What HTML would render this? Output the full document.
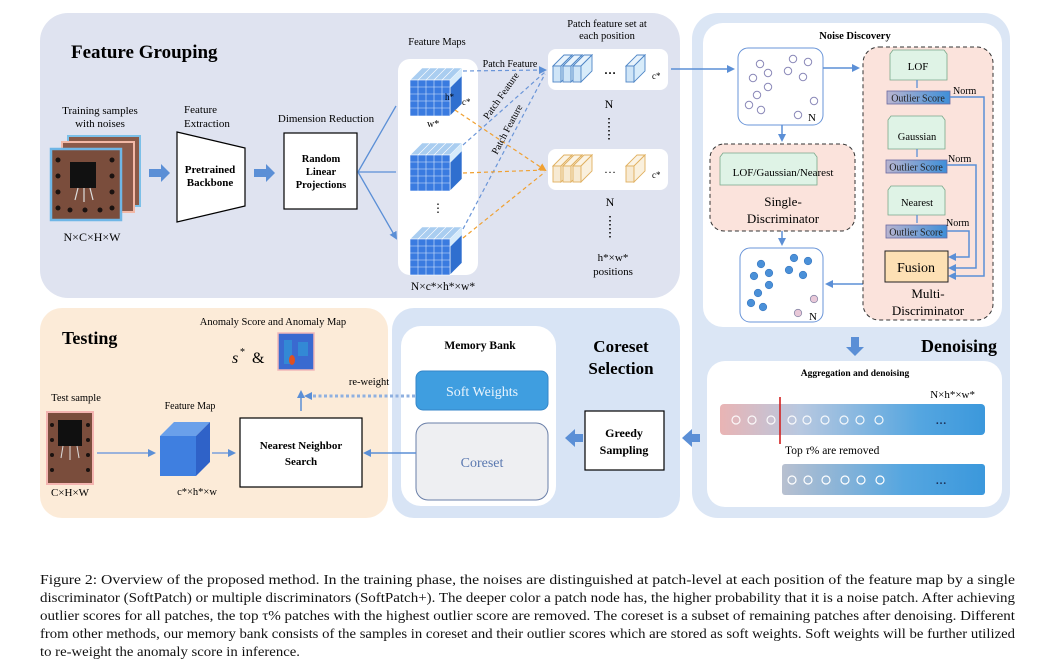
<!DOCTYPE html>
<html><head><meta charset="utf-8"><style>
body{margin:0;background:#fff}
svg{display:block}
text{font-family:"Liberation Serif",serif}
</style></head><body>
<svg width="1049" height="666" viewBox="0 0 1049 666" xmlns="http://www.w3.org/2000/svg">
<defs>
<marker id="ah" markerWidth="8" markerHeight="8" refX="6" refY="4" orient="auto" markerUnits="userSpaceOnUse"><path d="M0,0L8,4L0,8z" fill="#5b8fd6"/></marker>
<marker id="ao" markerWidth="8" markerHeight="8" refX="6" refY="4" orient="auto" markerUnits="userSpaceOnUse"><path d="M0,0L8,4L0,8z" fill="#f0a030"/></marker>
<linearGradient id="b1" x1="0" x2="1"><stop offset="0" stop-color="#e9b4b4"/><stop offset="0.3" stop-color="#b8c8e0"/><stop offset="0.75" stop-color="#55a6e0"/><stop offset="1" stop-color="#3b98dc"/></linearGradient>
<linearGradient id="b2" x1="0" x2="1"><stop offset="0" stop-color="#b8c0d0"/><stop offset="0.6" stop-color="#55a6e0"/><stop offset="1" stop-color="#3b98dc"/></linearGradient>
<linearGradient id="os" x1="0" x2="1"><stop offset="0" stop-color="#b8b4d0"/><stop offset="1" stop-color="#3f8fd8"/></linearGradient>
<g id="cube">
<path d="M0,12L12,0L52,0L40,12z" fill="#a9cdf0" stroke="#fff" stroke-width="0.6"/>
<path d="M40,12L52,0L52,36L40,48z" fill="#2f6fcf" stroke="#fff" stroke-width="0.6"/>
<rect x="0" y="12" width="40" height="36" fill="#3a7be0" stroke="#fff" stroke-width="0.6"/>
<path d="M8,12V48M16,12V48M24,12V48M32,12V48M0,19H40M0,26H40M0,33H40M0,40H40" stroke="#d8e6fb" stroke-width="0.6"/>
<path d="M20,0L8,12M28,0L16,12M36,0L24,12M44,0L32,12" stroke="#fff" stroke-width="0.6"/>
<path d="M40,12L52,0V8L40,20z" fill="#d6ebfb"/>
</g>
<g id="pb"><path d="M0,11L11,0H19L8,11z" fill="#e8f3fc" stroke="#4f86c6" stroke-width="0.9"/><rect x="0" y="11" width="8" height="16" fill="#cfe5f7" stroke="#4f86c6" stroke-width="0.9"/><path d="M8,11L19,0V16L8,27z" fill="#d8ecfa" stroke="#4f86c6" stroke-width="0.9"/></g>
<g id="po"><path d="M0,11L11,0H19L8,11z" fill="#fbf3e4" stroke="#e0b060" stroke-width="0.9"/><rect x="0" y="11" width="8" height="16" fill="#f7ead3" stroke="#e0b060" stroke-width="0.9"/><path d="M8,11L19,0V16L8,27z" fill="#faf0dd" stroke="#e0b060" stroke-width="0.9"/></g>
</defs>

<rect x="40" y="13" width="640" height="285" rx="28" fill="#dfe3f0"/>
<rect x="692" y="13" width="318" height="505" rx="26" fill="#dbe6f5"/>
<rect x="703" y="23" width="299" height="304" rx="20" fill="#fff"/>
<rect x="707" y="361" width="295" height="146" rx="18" fill="#fff"/>
<rect x="40" y="308" width="348" height="210" rx="22" fill="#fcebd8"/>
<rect x="392" y="308" width="288" height="210" rx="22" fill="#d8e4f5"/>
<rect x="401" y="326" width="155" height="180" rx="20" fill="#fff"/>

<text x="71" y="58" font-size="19" font-weight="bold">Feature Grouping</text>
<text x="100" y="114" font-size="11" text-anchor="middle">Training samples</text>
<text x="100" y="127" font-size="11" text-anchor="middle">with noises</text>
<rect x="68" y="136" width="72" height="70" fill="#8a5a48" stroke="#7cc0e8" stroke-width="2"/>
<rect x="62" y="142" width="72" height="70" fill="#8b5a4a" stroke="#f2b8a6" stroke-width="2"/>
<rect x="51" y="149" width="70" height="71" fill="#7a4d3c" stroke="#6fb6e6" stroke-width="2.5"/>
<rect x="70" y="162" width="26" height="26" fill="#111"/>
<g fill="#1a1210"><circle cx="58" cy="160" r="2.5"/><circle cx="58" cy="176" r="2.5"/><circle cx="58" cy="192" r="2.5"/><circle cx="58" cy="208" r="2.5"/><circle cx="112" cy="160" r="2.5"/><circle cx="112" cy="176" r="2.5"/><circle cx="112" cy="192" r="2.5"/><circle cx="112" cy="208" r="2.5"/><circle cx="85" cy="210" r="2.5"/><circle cx="70" cy="210" r="2.5"/><circle cx="100" cy="210" r="2.5"/></g>
<path d="M78,188l-3,12M84,188v14M90,188l3,12" stroke="#ddd" stroke-width="1.2"/>
<text x="92" y="241" font-size="12" text-anchor="middle">N×C×H×W</text>
<path d="M149,169h12v-5l9,9l-9,9v-5h-12z" fill="#5b8fd6"/>
<text x="184" y="113" font-size="11">Feature</text>
<text x="184" y="127" font-size="11">Extraction</text>
<path d="M177,132L245,148V206L177,222z" fill="#fff" stroke="#000" stroke-width="1.2"/>
<text x="210" y="173" font-size="11" font-weight="bold" text-anchor="middle">Pretrained</text>
<text x="210" y="186" font-size="11" font-weight="bold" text-anchor="middle">Backbone</text>
<path d="M254,169h12v-5l9,9l-9,9v-5h-12z" fill="#5b8fd6"/>
<text x="326" y="122" font-size="11" text-anchor="middle">Dimension Reduction</text>
<rect x="284" y="133" width="73" height="76" fill="#fff" stroke="#000" stroke-width="1.2"/>
<text x="321" y="162" font-size="10.5" font-weight="bold" text-anchor="middle">Random</text>
<text x="321" y="175" font-size="10.5" font-weight="bold" text-anchor="middle">Linear</text>
<text x="321" y="188" font-size="10.5" font-weight="bold" text-anchor="middle">Projections</text>
<path d="M358,172L396,106M358,172H396M358,172L396,238" stroke="#5b8fd6" stroke-width="1.3" fill="none" marker-end="url(#ah)"/>
<text x="437" y="45" font-size="10.5" text-anchor="middle">Feature Maps</text>
<rect x="398" y="59" width="80" height="216" rx="12" fill="#fff"/>
<use href="#cube" x="410" y="68"/>
<use href="#cube" x="410" y="143"/>
<use href="#cube" x="410" y="227"/>
<text x="445" y="100" font-size="9">h*</text>
<text x="462" y="105" font-size="9">c*</text>
<text x="427" y="127" font-size="10">w*</text>
<text x="432" y="212" font-size="12">⋮</text>
<text x="443" y="290" font-size="11.5" text-anchor="middle">N×c*×h*×w*</text>
<g stroke="#6a95d8" stroke-width="1.2" stroke-dasharray="4,3" fill="none">
<path d="M463,71L545,70" marker-end="url(#ah)"/>
<path d="M463,145L545,72"/>
<path d="M463,229L545,74"/>
</g>
<g stroke="#f0a030" stroke-width="1.2" stroke-dasharray="4,3" fill="none">
<path d="M455,110L545,170" marker-end="url(#ao)"/>
<path d="M463,173L545,170"/>
<path d="M463,238L545,172"/>
</g>
<text x="510" y="67" font-size="10" text-anchor="middle">Patch Feature</text>
<text x="0" y="0" font-size="10" transform="translate(488,120) rotate(-55)">Patch Feature</text>
<text x="0" y="0" font-size="10" transform="translate(497,155) rotate(-62)">Patch Feature</text>
<text x="607" y="27" font-size="10.5" text-anchor="middle">Patch feature set at</text>
<text x="607" y="39" font-size="10.5" text-anchor="middle">each position</text>
<rect x="548" y="49" width="120" height="41" rx="8" fill="#fff"/>
<use href="#pb" x="553" y="55"/><use href="#pb" x="563" y="55"/><use href="#pb" x="573" y="55"/><use href="#pb" x="626" y="55"/>
<text x="604" y="74" font-size="12" font-weight="bold">…</text><text x="652" y="79" font-size="9">c*</text>
<rect x="548" y="149" width="120" height="41" rx="8" fill="#fff"/>
<use href="#po" x="553" y="155"/><use href="#po" x="563" y="155"/><use href="#po" x="573" y="155"/><use href="#po" x="626" y="155"/>
<text x="604" y="173" font-size="12">…</text><text x="652" y="178" font-size="9">c*</text>
<text x="609" y="108" font-size="12" text-anchor="middle">N</text>
<path d="M609,118V142" stroke="#000" stroke-width="1.5" stroke-dasharray="1.5,2.5"/>
<text x="610" y="206" font-size="12" text-anchor="middle">N</text>
<path d="M610,216V238" stroke="#000" stroke-width="1.5" stroke-dasharray="1.5,2.5"/>
<text x="613" y="261" font-size="11" text-anchor="middle">h*×w*</text>
<text x="613" y="275" font-size="11" text-anchor="middle">positions</text>
<path d="M671,69H733" stroke="#5b8fd6" stroke-width="1.5" marker-end="url(#ah)"/>

<text x="855" y="39" font-size="10.5" font-weight="bold" text-anchor="middle">Noise Discovery</text>
<rect x="738" y="48" width="85" height="77" rx="10" fill="#fff" stroke="#6a95d8" stroke-width="1"/>
<g fill="#fff" stroke="#8a88b8" stroke-width="1"><circle cx="760" cy="64" r="3.7"/><circle cx="793" cy="59" r="3.7"/><circle cx="808" cy="62" r="3.7"/><circle cx="768" cy="73" r="3.7"/><circle cx="788" cy="71" r="3.7"/><circle cx="753" cy="78" r="3.7"/><circle cx="803" cy="77" r="3.7"/><circle cx="768" cy="87" r="3.7"/><circle cx="757" cy="95" r="3.7"/><circle cx="814" cy="101" r="3.7"/><circle cx="749" cy="105" r="3.7"/><circle cx="761" cy="110" r="3.7"/><circle cx="798" cy="115" r="3.7"/></g>
<text x="808" y="121" font-size="11">N</text>
<path d="M823,68H858" stroke="#5b8fd6" stroke-width="1.5" marker-end="url(#ah)"/>
<path d="M782,125V140" stroke="#5b8fd6" stroke-width="1.5" marker-end="url(#ah)"/>
<rect x="710" y="144" width="145" height="87" rx="14" fill="#fbe3dc" stroke="#333" stroke-width="1" stroke-dasharray="4,3"/>
<path d="M720,157l3,-4H814l3,4V185H720z" fill="#dff3e6" stroke="#7aa88a" stroke-width="0.8"/>
<text x="783" y="176" font-size="11" text-anchor="middle">LOF/Gaussian/Nearest</text>
<text x="783" y="206" font-size="13" text-anchor="middle">Single-</text>
<text x="783" y="223" font-size="13" text-anchor="middle">Discriminator</text>
<path d="M782,231V244" stroke="#5b8fd6" stroke-width="1.5" marker-end="url(#ah)"/>
<rect x="740" y="248" width="83" height="74" rx="10" fill="#fff" stroke="#6a95d8" stroke-width="1"/>
<g fill="#4a90d8" stroke="#3a78c0" stroke-width="0.6"><circle cx="761" cy="264" r="3.8"/><circle cx="794" cy="258" r="3.8"/><circle cx="808" cy="261" r="3.8"/><circle cx="769" cy="273" r="3.8"/><circle cx="789" cy="270" r="3.8"/><circle cx="754" cy="276" r="3.8"/><circle cx="803" cy="275" r="3.8"/><circle cx="769" cy="285" r="3.8"/><circle cx="758" cy="293" r="3.8"/><circle cx="751" cy="303" r="3.8"/><circle cx="763" cy="307" r="3.8"/></g>
<g fill="#e8c8d8" stroke="#8a88a8" stroke-width="0.8"><circle cx="814" cy="299" r="3.7"/><circle cx="798" cy="313" r="3.7"/></g>
<text x="809" y="320" font-size="11">N</text>
<path d="M863,284H827" stroke="#5b8fd6" stroke-width="1.5" marker-end="url(#ah)"/>
<rect x="863" y="47" width="130" height="273" rx="16" fill="#fbe3dc" stroke="#333" stroke-width="1" stroke-dasharray="4,3"/>
<path d="M890,54l3,-4H944l3,4V80H890z" fill="#dff3e6" stroke="#7aa88a" stroke-width="0.8"/>
<text x="918" y="70" font-size="11" text-anchor="middle">LOF</text>
<path d="M888,120l3,-4H942l3,4V149H888z" fill="#dff3e6" stroke="#7aa88a" stroke-width="0.8"/>
<text x="917" y="140" font-size="10.5" text-anchor="middle">Gaussian</text>
<path d="M888,190l3,-4H942l3,4V215H888z" fill="#dff3e6" stroke="#7aa88a" stroke-width="0.8"/>
<text x="917" y="206" font-size="10.5" text-anchor="middle">Nearest</text>
<g stroke="#5b8fd6" stroke-width="1.3"><path d="M917,80V88"/><path d="M917,149V157"/><path d="M917,215V223"/></g>
<rect x="887" y="91" width="63" height="13" fill="url(#os)" stroke="#6a6aa0" stroke-width="0.8"/>
<text x="918" y="101.5" font-size="10" text-anchor="middle" fill="#222">Outlier Score</text>
<rect x="886" y="160" width="61" height="13" fill="url(#os)" stroke="#6a6aa0" stroke-width="0.8"/>
<text x="916" y="170.5" font-size="10" text-anchor="middle" fill="#222">Outlier Score</text>
<rect x="886" y="225" width="61" height="13" fill="url(#os)" stroke="#6a6aa0" stroke-width="0.8"/>
<text x="916" y="235.5" font-size="10" text-anchor="middle" fill="#222">Outlier Score</text>
<text x="953" y="94" font-size="10">Norm</text>
<text x="948" y="162" font-size="10">Norm</text>
<text x="946" y="226" font-size="10">Norm</text>
<g stroke="#5b8fd6" stroke-width="1.5" fill="none">
<path d="M950,97H984V276H950" marker-end="url(#ah)"/>
<path d="M947,165H976V268H950" marker-end="url(#ah)"/>
<path d="M947,231H969V257H950" marker-end="url(#ah)"/>
</g>
<rect x="885" y="251" width="63" height="31" fill="#fde0b4" stroke="#222" stroke-width="1"/>
<text x="916" y="272" font-size="14" text-anchor="middle">Fusion</text>
<text x="928" y="298" font-size="13" text-anchor="middle">Multi-</text>
<text x="928" y="315" font-size="13" text-anchor="middle">Discriminator</text>

<path d="M851,337h8v10h5l-9,9l-9,-9h5z" fill="#5b8fd6"/>
<text x="997" y="352" font-size="18" font-weight="bold" text-anchor="end">Denoising</text>
<text x="855" y="376" font-size="9.5" font-weight="bold" text-anchor="middle">Aggregation and denoising</text>
<text x="975" y="398" font-size="11" text-anchor="end">N×h*×w*</text>
<rect x="720" y="404" width="265" height="31" rx="4" fill="url(#b1)"/>
<g fill="none" stroke="#fff" stroke-width="1.2" opacity="0.9"><circle cx="736" cy="420" r="4"/><circle cx="752" cy="420" r="4"/><circle cx="771" cy="420" r="4"/><circle cx="792" cy="420" r="4"/><circle cx="807" cy="420" r="4"/><circle cx="825" cy="420" r="4"/><circle cx="844" cy="420" r="4"/><circle cx="860" cy="420" r="4"/><circle cx="879" cy="420" r="4"/></g>
<text x="941" y="424" font-size="11" font-weight="bold" text-anchor="middle" fill="#1a2a50">…</text>
<path d="M780,397V444" stroke="#d02020" stroke-width="1.6"/>
<text x="785" y="454" font-size="11.5">Top <tspan font-style="italic">τ</tspan>%  are removed</text>
<rect x="782" y="464" width="203" height="31" rx="3" fill="url(#b2)"/>
<g fill="none" stroke="#fff" stroke-width="1.2"><circle cx="792" cy="480" r="4"/><circle cx="808" cy="480" r="4"/><circle cx="826" cy="480" r="4"/><circle cx="845" cy="480" r="4"/><circle cx="861" cy="480" r="4"/><circle cx="880" cy="480" r="4"/></g>
<text x="941" y="484" font-size="11" font-weight="bold" text-anchor="middle" fill="#1a2a50">…</text>
<path d="M700,434h-8v-5l-10,9l10,9v-5h8z" fill="#5b8fd6"/>

<text x="621" y="352" font-size="17" font-weight="bold" text-anchor="middle">Coreset</text>
<text x="621" y="374" font-size="17" font-weight="bold" text-anchor="middle">Selection</text>
<rect x="585" y="411" width="79" height="59" fill="#fff" stroke="#000" stroke-width="1.2"/>
<text x="624" y="437" font-size="12" font-weight="bold" text-anchor="middle">Greedy</text>
<text x="624" y="454" font-size="12" font-weight="bold" text-anchor="middle">Sampling</text>
<path d="M583,434h-8v-5l-10,9l10,9v-5h8z" fill="#5b8fd6"/>
<text x="480" y="349" font-size="11.5" font-weight="bold" text-anchor="middle">Memory Bank</text>
<rect x="416" y="371" width="132" height="39" rx="7" fill="#3f9ee0" stroke="#3486c8" stroke-width="1"/>
<text x="482" y="396" font-size="14" text-anchor="middle" fill="#eaf4fc">Soft Weights</text>
<rect x="416" y="423" width="132" height="77" rx="12" fill="#eeeff2" stroke="#6a7fa8" stroke-width="1"/>
<text x="482" y="467" font-size="14" text-anchor="middle" fill="#5a78b0">Coreset</text>
<path d="M416,453H365" stroke="#5b8fd6" stroke-width="1.6" marker-end="url(#ah)"/>
<path d="M415,396H306" stroke="#8fb0e0" stroke-width="3" stroke-dasharray="3,2.5" marker-end="url(#ah)"/>
<text x="369" y="385" font-size="10.5" text-anchor="middle">re-weight</text>

<text x="62" y="344" font-size="18" font-weight="bold">Testing</text>
<text x="273" y="325" font-size="10.5" text-anchor="middle">Anomaly Score and Anomaly  Map</text>
<text x="232" y="363" font-size="16" font-style="italic">s</text><text x="240" y="355" font-size="10">*</text><text x="252" y="363" font-size="16">&amp;</text>
<rect x="278" y="333" width="36" height="37" fill="#3a6ad0" stroke="#f2b8b8" stroke-width="1.5"/>
<path d="M284,340h8v24h-8zM298,342h10v14h-10z" fill="#2f9fd8" opacity="0.6"/>
<ellipse cx="292" cy="360" rx="3" ry="5" fill="#e05020"/>
<path d="M301,411V392" stroke="#5b8fd6" stroke-width="1.5" marker-end="url(#ah)"/>
<text x="76" y="401" font-size="10.5" text-anchor="middle">Test sample</text>
<rect x="47" y="412" width="46" height="72" fill="#7a4d3c" stroke="#f4b4b0" stroke-width="2"/>
<rect x="58" y="420" width="24" height="26" fill="#101010"/>
<g fill="#1a1210"><circle cx="52" cy="425" r="2"/><circle cx="52" cy="440" r="2"/><circle cx="52" cy="455" r="2"/><circle cx="52" cy="470" r="2"/><circle cx="88" cy="425" r="2"/><circle cx="88" cy="440" r="2"/><circle cx="88" cy="455" r="2"/><circle cx="88" cy="470" r="2"/></g>
<path d="M63,446l-2,12M70,446v14M77,446l2,12" stroke="#ddd" stroke-width="1"/>
<text x="70" y="496" font-size="11" text-anchor="middle">C×H×W</text>
<path d="M97,453H154" stroke="#7aa0dc" stroke-width="1.5" marker-end="url(#ah)"/>
<text x="190" y="409" font-size="10" text-anchor="middle">Feature Map</text>
<path d="M160,436L174,422H210L196,436z" fill="#6aa0ea"/>
<path d="M196,436L210,422V462L196,476z" fill="#2f62c8"/>
<rect x="160" y="436" width="36" height="40" fill="#3f7fe0"/>
<path d="M212,453H234" stroke="#7aa0dc" stroke-width="1.5" marker-end="url(#ah)"/>
<text x="197" y="495" font-size="10.5" text-anchor="middle">c*×h*×w</text>
<rect x="240" y="418" width="122" height="69" fill="#fff" stroke="#000" stroke-width="1.2"/>
<text x="301" y="449" font-size="11" font-weight="bold" text-anchor="middle">Nearest Neighbor</text>
<text x="301" y="465" font-size="11" font-weight="bold" text-anchor="middle">Search</text>

<g font-size="13.2" fill="#111">
<text x="40" y="584" textLength="975" lengthAdjust="spacingAndGlyphs">Figure 2: Overview of the proposed method.  In the training phase, the noises are distinguished at patch-level at each position of the feature map by a single</text>
<text x="40" y="602" textLength="975" lengthAdjust="spacingAndGlyphs">discriminator (SoftPatch) or multiple discriminators (SoftPatch+). The deeper color a patch node has, the higher probability that it is a noise patch. After achieving</text>
<text x="40" y="620" textLength="975" lengthAdjust="spacingAndGlyphs">outlier scores for all patches, the top τ% patches with the highest outlier score are removed. The coreset is a subset of remaining patches after denoising. Different</text>
<text x="40" y="638" textLength="975" lengthAdjust="spacingAndGlyphs">from other methods, our memory bank consists of the samples in coreset and their outlier scores which are stored as soft weights. Soft weights will be further utilized</text>
<text x="40" y="656" textLength="260" lengthAdjust="spacingAndGlyphs">to re-weight the anomaly score in inference.</text>
</g>
</svg>
</body></html>
